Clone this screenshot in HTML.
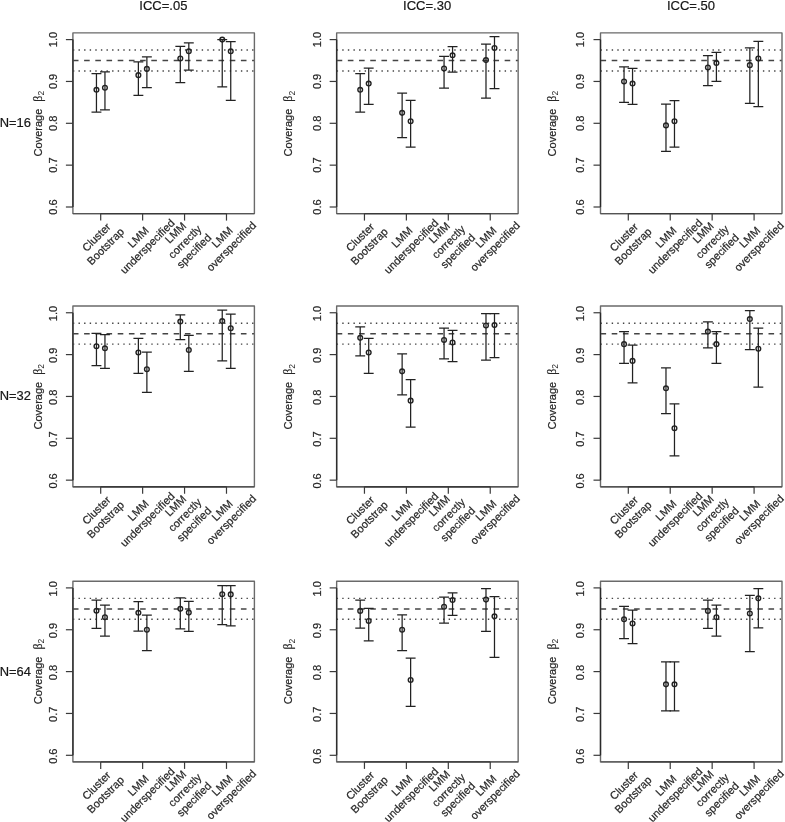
<!DOCTYPE html>
<html><head><meta charset="utf-8"><title>Coverage</title>
<style>html,body{margin:0;padding:0;background:#fff}svg{display:block}text{font-family:"Liberation Sans",sans-serif;stroke:#2a2a2a;stroke-width:0.22px}</style></head><body>
<svg width="785" height="822" viewBox="0 0 785 822">
<rect width="785" height="822" fill="#fff"/>
<g>
<line x1="72.9" x2="254.4" y1="50.06" y2="50.06" stroke="#444" stroke-width="1.4" stroke-dasharray="1.4 4.2"/>
<line x1="72.9" x2="254.4" y1="60.53" y2="60.53" stroke="#444" stroke-width="1.4" stroke-dasharray="5.6 5.6"/>
<line x1="72.9" x2="254.4" y1="70.99" y2="70.99" stroke="#444" stroke-width="1.4" stroke-dasharray="1.4 4.2"/>
<rect x="72.9" y="32.9" width="181.5" height="180.7" fill="none" stroke="#6a6a6a" stroke-width="1.4" stroke-linejoin="round"/>
<path d="M72.9 213.6H254.4" stroke="#555" stroke-width="1.3" fill="none"/>
<path d="M72.9 39.6V207" stroke="#3a3a3a" stroke-width="1.6" fill="none"/>
<line x1="65.9" x2="72.9" y1="39.6" y2="39.6" stroke="#3a3a3a" stroke-width="1.2"/>
<text transform="translate(57.3,39.6) rotate(-90)" text-anchor="middle" font-size="11" fill="#262626">1.0</text>
<line x1="65.9" x2="72.9" y1="81.45" y2="81.45" stroke="#3a3a3a" stroke-width="1.2"/>
<text transform="translate(57.3,81.45) rotate(-90)" text-anchor="middle" font-size="11" fill="#262626">0.9</text>
<line x1="65.9" x2="72.9" y1="123.3" y2="123.3" stroke="#3a3a3a" stroke-width="1.2"/>
<text transform="translate(57.3,123.3) rotate(-90)" text-anchor="middle" font-size="11" fill="#262626">0.8</text>
<line x1="65.9" x2="72.9" y1="165.15" y2="165.15" stroke="#3a3a3a" stroke-width="1.2"/>
<text transform="translate(57.3,165.15) rotate(-90)" text-anchor="middle" font-size="11" fill="#262626">0.7</text>
<line x1="65.9" x2="72.9" y1="207" y2="207" stroke="#3a3a3a" stroke-width="1.2"/>
<text transform="translate(57.3,207) rotate(-90)" text-anchor="middle" font-size="11" fill="#262626">0.6</text>
<text transform="translate(41.5,123.55) rotate(-90)" text-anchor="middle" font-size="11" fill="#262626">Coverage <tspan dx="3.9" font-family="Liberation Serif,serif" font-size="11.8">β</tspan><tspan dy="2.4" dx="0.2" font-size="8.6" stroke="none">2</tspan></text>
<path d="M100.7 213.6H226.49" stroke="#3a3a3a" stroke-width="1.4" fill="none"/>
<line x1="100.7" x2="100.7" y1="213.6" y2="220.6" stroke="#3a3a3a" stroke-width="1.2"/>
<text transform="translate(100.9,241.8) rotate(-45)" text-anchor="middle" font-size="11" fill="#262626"><tspan x="0" y="-2.7">Cluster</tspan><tspan x="0" y="10.3">Bootstrap</tspan></text>
<line x1="142.63" x2="142.63" y1="213.6" y2="220.6" stroke="#3a3a3a" stroke-width="1.2"/>
<text transform="translate(142.83,241.8) rotate(-45)" text-anchor="middle" font-size="11" fill="#262626"><tspan x="0" y="-2.7">LMM</tspan><tspan x="0" y="10.3">underspecified</tspan></text>
<line x1="184.56" x2="184.56" y1="213.6" y2="220.6" stroke="#3a3a3a" stroke-width="1.2"/>
<text transform="translate(184.76,241.8) rotate(-45)" text-anchor="middle" font-size="11" fill="#262626"><tspan x="0" y="-9.2">LMM</tspan><tspan x="0" y="3.8">correctly</tspan><tspan x="0" y="16.8">specified</tspan></text>
<line x1="226.49" x2="226.49" y1="213.6" y2="220.6" stroke="#3a3a3a" stroke-width="1.2"/>
<text transform="translate(226.69,241.8) rotate(-45)" text-anchor="middle" font-size="11" fill="#262626"><tspan x="0" y="-2.7">LMM</tspan><tspan x="0" y="10.3">overspecified</tspan></text>
<path d="M96.45 73.5V112M91.5 73.5H101.4M91.5 112H101.4" stroke="#222" stroke-width="1.25" fill="none"/>
<circle cx="96.45" cy="89.82" r="2.35" fill="none" stroke="#222" stroke-width="1.4"/>
<path d="M104.95 71.82V109.91M100 71.82H109.9M100 109.91H109.9" stroke="#222" stroke-width="1.25" fill="none"/>
<circle cx="104.95" cy="87.73" r="2.35" fill="none" stroke="#222" stroke-width="1.4"/>
<path d="M138.38 61.78V95.26M133.43 61.78H143.33M133.43 95.26H143.33" stroke="#222" stroke-width="1.25" fill="none"/>
<circle cx="138.38" cy="75.17" r="2.35" fill="none" stroke="#222" stroke-width="1.4"/>
<path d="M146.88 56.76V87.73M141.93 56.76H151.83M141.93 87.73H151.83" stroke="#222" stroke-width="1.25" fill="none"/>
<circle cx="146.88" cy="68.89" r="2.35" fill="none" stroke="#222" stroke-width="1.4"/>
<path d="M180.31 46.3V82.71M175.36 46.3H185.26M175.36 82.71H185.26" stroke="#222" stroke-width="1.25" fill="none"/>
<circle cx="180.31" cy="58.43" r="2.35" fill="none" stroke="#222" stroke-width="1.4"/>
<path d="M188.81 42.95V70.15M183.86 42.95H193.76M183.86 70.15H193.76" stroke="#222" stroke-width="1.25" fill="none"/>
<circle cx="188.81" cy="51.32" r="2.35" fill="none" stroke="#222" stroke-width="1.4"/>
<path d="M222.24 39.6V86.89M217.29 39.6H227.19M217.29 86.89H227.19" stroke="#222" stroke-width="1.25" fill="none"/>
<circle cx="222.24" cy="39.6" r="2.35" fill="none" stroke="#222" stroke-width="1.4"/>
<path d="M230.74 41.69V100.28M225.79 41.69H235.69M225.79 100.28H235.69" stroke="#222" stroke-width="1.25" fill="none"/>
<circle cx="230.74" cy="51.32" r="2.35" fill="none" stroke="#222" stroke-width="1.4"/>
</g>
<g>
<line x1="336.65" x2="518.15" y1="50.06" y2="50.06" stroke="#444" stroke-width="1.4" stroke-dasharray="1.4 4.2"/>
<line x1="336.65" x2="518.15" y1="60.53" y2="60.53" stroke="#444" stroke-width="1.4" stroke-dasharray="5.6 5.6"/>
<line x1="336.65" x2="518.15" y1="70.99" y2="70.99" stroke="#444" stroke-width="1.4" stroke-dasharray="1.4 4.2"/>
<rect x="336.65" y="32.9" width="181.5" height="180.7" fill="none" stroke="#6a6a6a" stroke-width="1.4" stroke-linejoin="round"/>
<path d="M336.65 213.6H518.15" stroke="#555" stroke-width="1.3" fill="none"/>
<path d="M336.65 39.6V207" stroke="#2e2e2e" stroke-width="1.4" fill="none"/>
<line x1="329.65" x2="336.65" y1="39.6" y2="39.6" stroke="#3a3a3a" stroke-width="1.2"/>
<text transform="translate(320.55,39.6) rotate(-90)" text-anchor="middle" font-size="11" fill="#262626">1.0</text>
<line x1="329.65" x2="336.65" y1="81.45" y2="81.45" stroke="#3a3a3a" stroke-width="1.2"/>
<text transform="translate(320.55,81.45) rotate(-90)" text-anchor="middle" font-size="11" fill="#262626">0.9</text>
<line x1="329.65" x2="336.65" y1="123.3" y2="123.3" stroke="#3a3a3a" stroke-width="1.2"/>
<text transform="translate(320.55,123.3) rotate(-90)" text-anchor="middle" font-size="11" fill="#262626">0.8</text>
<line x1="329.65" x2="336.65" y1="165.15" y2="165.15" stroke="#3a3a3a" stroke-width="1.2"/>
<text transform="translate(320.55,165.15) rotate(-90)" text-anchor="middle" font-size="11" fill="#262626">0.7</text>
<line x1="329.65" x2="336.65" y1="207" y2="207" stroke="#3a3a3a" stroke-width="1.2"/>
<text transform="translate(320.55,207) rotate(-90)" text-anchor="middle" font-size="11" fill="#262626">0.6</text>
<text transform="translate(292.15,123.55) rotate(-90)" text-anchor="middle" font-size="11" fill="#262626">Coverage <tspan dx="3.9" font-family="Liberation Serif,serif" font-size="11.8">β</tspan><tspan dy="2.4" dx="0.2" font-size="8.6" stroke="none">2</tspan></text>
<path d="M364.45 213.6H490.24" stroke="#3a3a3a" stroke-width="1.4" fill="none"/>
<line x1="364.45" x2="364.45" y1="213.6" y2="220.6" stroke="#3a3a3a" stroke-width="1.2"/>
<text transform="translate(364.65,241.8) rotate(-45)" text-anchor="middle" font-size="11" fill="#262626"><tspan x="0" y="-2.7">Cluster</tspan><tspan x="0" y="10.3">Bootstrap</tspan></text>
<line x1="406.38" x2="406.38" y1="213.6" y2="220.6" stroke="#3a3a3a" stroke-width="1.2"/>
<text transform="translate(406.58,241.8) rotate(-45)" text-anchor="middle" font-size="11" fill="#262626"><tspan x="0" y="-2.7">LMM</tspan><tspan x="0" y="10.3">underspecified</tspan></text>
<line x1="448.31" x2="448.31" y1="213.6" y2="220.6" stroke="#3a3a3a" stroke-width="1.2"/>
<text transform="translate(448.51,241.8) rotate(-45)" text-anchor="middle" font-size="11" fill="#262626"><tspan x="0" y="-9.2">LMM</tspan><tspan x="0" y="3.8">correctly</tspan><tspan x="0" y="16.8">specified</tspan></text>
<line x1="490.24" x2="490.24" y1="213.6" y2="220.6" stroke="#3a3a3a" stroke-width="1.2"/>
<text transform="translate(490.44,241.8) rotate(-45)" text-anchor="middle" font-size="11" fill="#262626"><tspan x="0" y="-2.7">LMM</tspan><tspan x="0" y="10.3">overspecified</tspan></text>
<path d="M360.2 73.5V112M355.25 73.5H365.15M355.25 112H365.15" stroke="#222" stroke-width="1.25" fill="none"/>
<circle cx="360.2" cy="89.82" r="2.35" fill="none" stroke="#222" stroke-width="1.4"/>
<path d="M368.7 68.06V104.47M363.75 68.06H373.65M363.75 104.47H373.65" stroke="#222" stroke-width="1.25" fill="none"/>
<circle cx="368.7" cy="83.54" r="2.35" fill="none" stroke="#222" stroke-width="1.4"/>
<path d="M402.13 93.17V137.53M397.18 93.17H407.08M397.18 137.53H407.08" stroke="#222" stroke-width="1.25" fill="none"/>
<circle cx="402.13" cy="112.84" r="2.35" fill="none" stroke="#222" stroke-width="1.4"/>
<path d="M410.63 100.28V147.15M405.68 100.28H415.58M405.68 147.15H415.58" stroke="#222" stroke-width="1.25" fill="none"/>
<circle cx="410.63" cy="121.21" r="2.35" fill="none" stroke="#222" stroke-width="1.4"/>
<path d="M444.06 56.34V88.15M439.11 56.34H449.01M439.11 88.15H449.01" stroke="#222" stroke-width="1.25" fill="none"/>
<circle cx="444.06" cy="68.48" r="2.35" fill="none" stroke="#222" stroke-width="1.4"/>
<path d="M452.56 46.71V72.24M447.61 46.71H457.51M447.61 72.24H457.51" stroke="#222" stroke-width="1.25" fill="none"/>
<circle cx="452.56" cy="55.29" r="2.35" fill="none" stroke="#222" stroke-width="1.4"/>
<path d="M485.99 44.2V98.19M481.04 44.2H490.94M481.04 98.19H490.94" stroke="#222" stroke-width="1.25" fill="none"/>
<circle cx="485.99" cy="60.11" r="2.35" fill="none" stroke="#222" stroke-width="1.4"/>
<path d="M494.49 36.67V88.56M489.54 36.67H499.44M489.54 88.56H499.44" stroke="#222" stroke-width="1.25" fill="none"/>
<circle cx="494.49" cy="47.97" r="2.35" fill="none" stroke="#222" stroke-width="1.4"/>
</g>
<g>
<line x1="600.5" x2="782" y1="50.06" y2="50.06" stroke="#444" stroke-width="1.4" stroke-dasharray="1.4 4.2"/>
<line x1="600.5" x2="782" y1="60.53" y2="60.53" stroke="#444" stroke-width="1.4" stroke-dasharray="5.6 5.6"/>
<line x1="600.5" x2="782" y1="70.99" y2="70.99" stroke="#444" stroke-width="1.4" stroke-dasharray="1.4 4.2"/>
<rect x="600.5" y="32.9" width="181.5" height="180.7" fill="none" stroke="#6a6a6a" stroke-width="1.4" stroke-linejoin="round"/>
<path d="M600.5 213.6H782" stroke="#555" stroke-width="1.3" fill="none"/>
<path d="M600.5 39.6V207" stroke="#2a2a2a" stroke-width="1.35" fill="none"/>
<line x1="593.5" x2="600.5" y1="39.6" y2="39.6" stroke="#3a3a3a" stroke-width="1.2"/>
<text transform="translate(584.4,39.6) rotate(-90)" text-anchor="middle" font-size="11" fill="#262626">1.0</text>
<line x1="593.5" x2="600.5" y1="81.45" y2="81.45" stroke="#3a3a3a" stroke-width="1.2"/>
<text transform="translate(584.4,81.45) rotate(-90)" text-anchor="middle" font-size="11" fill="#262626">0.9</text>
<line x1="593.5" x2="600.5" y1="123.3" y2="123.3" stroke="#3a3a3a" stroke-width="1.2"/>
<text transform="translate(584.4,123.3) rotate(-90)" text-anchor="middle" font-size="11" fill="#262626">0.8</text>
<line x1="593.5" x2="600.5" y1="165.15" y2="165.15" stroke="#3a3a3a" stroke-width="1.2"/>
<text transform="translate(584.4,165.15) rotate(-90)" text-anchor="middle" font-size="11" fill="#262626">0.7</text>
<line x1="593.5" x2="600.5" y1="207" y2="207" stroke="#3a3a3a" stroke-width="1.2"/>
<text transform="translate(584.4,207) rotate(-90)" text-anchor="middle" font-size="11" fill="#262626">0.6</text>
<text transform="translate(556,123.55) rotate(-90)" text-anchor="middle" font-size="11" fill="#262626">Coverage <tspan dx="3.9" font-family="Liberation Serif,serif" font-size="11.8">β</tspan><tspan dy="2.4" dx="0.2" font-size="8.6" stroke="none">2</tspan></text>
<path d="M628.3 213.6H754.09" stroke="#3a3a3a" stroke-width="1.4" fill="none"/>
<line x1="628.3" x2="628.3" y1="213.6" y2="220.6" stroke="#3a3a3a" stroke-width="1.2"/>
<text transform="translate(628.5,241.8) rotate(-45)" text-anchor="middle" font-size="11" fill="#262626"><tspan x="0" y="-2.7">Cluster</tspan><tspan x="0" y="10.3">Bootstrap</tspan></text>
<line x1="670.23" x2="670.23" y1="213.6" y2="220.6" stroke="#3a3a3a" stroke-width="1.2"/>
<text transform="translate(670.43,241.8) rotate(-45)" text-anchor="middle" font-size="11" fill="#262626"><tspan x="0" y="-2.7">LMM</tspan><tspan x="0" y="10.3">underspecified</tspan></text>
<line x1="712.16" x2="712.16" y1="213.6" y2="220.6" stroke="#3a3a3a" stroke-width="1.2"/>
<text transform="translate(712.36,241.8) rotate(-45)" text-anchor="middle" font-size="11" fill="#262626"><tspan x="0" y="-9.2">LMM</tspan><tspan x="0" y="3.8">correctly</tspan><tspan x="0" y="16.8">specified</tspan></text>
<line x1="754.09" x2="754.09" y1="213.6" y2="220.6" stroke="#3a3a3a" stroke-width="1.2"/>
<text transform="translate(754.29,241.8) rotate(-45)" text-anchor="middle" font-size="11" fill="#262626"><tspan x="0" y="-2.7">LMM</tspan><tspan x="0" y="10.3">overspecified</tspan></text>
<path d="M624.05 66.8V102.38M619.1 66.8H629M619.1 102.38H629" stroke="#222" stroke-width="1.25" fill="none"/>
<circle cx="624.05" cy="81.45" r="2.35" fill="none" stroke="#222" stroke-width="1.4"/>
<path d="M632.55 68.48V104.47M627.6 68.48H637.5M627.6 104.47H637.5" stroke="#222" stroke-width="1.25" fill="none"/>
<circle cx="632.55" cy="83.54" r="2.35" fill="none" stroke="#222" stroke-width="1.4"/>
<path d="M665.98 104.05V151.34M661.03 104.05H670.93M661.03 151.34H670.93" stroke="#222" stroke-width="1.25" fill="none"/>
<circle cx="665.98" cy="125.39" r="2.35" fill="none" stroke="#222" stroke-width="1.4"/>
<path d="M674.48 100.7V147.15M669.53 100.7H679.43M669.53 147.15H679.43" stroke="#222" stroke-width="1.25" fill="none"/>
<circle cx="674.48" cy="121.21" r="2.35" fill="none" stroke="#222" stroke-width="1.4"/>
<path d="M707.91 55.5V85.63M702.96 55.5H712.86M702.96 85.63H712.86" stroke="#222" stroke-width="1.25" fill="none"/>
<circle cx="707.91" cy="67.43" r="2.35" fill="none" stroke="#222" stroke-width="1.4"/>
<path d="M716.41 52.36V81.45M711.46 52.36H721.36M711.46 81.45H721.36" stroke="#222" stroke-width="1.25" fill="none"/>
<circle cx="716.41" cy="63.04" r="2.35" fill="none" stroke="#222" stroke-width="1.4"/>
<path d="M749.84 47.97V103.42M744.89 47.97H754.79M744.89 103.42H754.79" stroke="#222" stroke-width="1.25" fill="none"/>
<circle cx="749.84" cy="65.13" r="2.35" fill="none" stroke="#222" stroke-width="1.4"/>
<path d="M758.34 41.27V106.56M753.39 41.27H763.29M753.39 106.56H763.29" stroke="#222" stroke-width="1.25" fill="none"/>
<circle cx="758.34" cy="58.43" r="2.35" fill="none" stroke="#222" stroke-width="1.4"/>
</g>
<g>
<line x1="72.9" x2="254.4" y1="323.21" y2="323.21" stroke="#444" stroke-width="1.4" stroke-dasharray="1.4 4.2"/>
<line x1="72.9" x2="254.4" y1="333.68" y2="333.68" stroke="#444" stroke-width="1.4" stroke-dasharray="5.6 5.6"/>
<line x1="72.9" x2="254.4" y1="344.14" y2="344.14" stroke="#444" stroke-width="1.4" stroke-dasharray="1.4 4.2"/>
<rect x="72.9" y="306.05" width="181.5" height="180.7" fill="none" stroke="#6a6a6a" stroke-width="1.4" stroke-linejoin="round"/>
<path d="M72.9 486.75H254.4" stroke="#555" stroke-width="1.3" fill="none"/>
<path d="M72.9 312.75V480.15" stroke="#3a3a3a" stroke-width="1.6" fill="none"/>
<line x1="65.9" x2="72.9" y1="312.75" y2="312.75" stroke="#3a3a3a" stroke-width="1.2"/>
<text transform="translate(57.3,313.55) rotate(-90)" text-anchor="middle" font-size="11" fill="#262626">1.0</text>
<line x1="65.9" x2="72.9" y1="354.6" y2="354.6" stroke="#3a3a3a" stroke-width="1.2"/>
<text transform="translate(57.3,355.4) rotate(-90)" text-anchor="middle" font-size="11" fill="#262626">0.9</text>
<line x1="65.9" x2="72.9" y1="396.45" y2="396.45" stroke="#3a3a3a" stroke-width="1.2"/>
<text transform="translate(57.3,397.25) rotate(-90)" text-anchor="middle" font-size="11" fill="#262626">0.8</text>
<line x1="65.9" x2="72.9" y1="438.3" y2="438.3" stroke="#3a3a3a" stroke-width="1.2"/>
<text transform="translate(57.3,439.1) rotate(-90)" text-anchor="middle" font-size="11" fill="#262626">0.7</text>
<line x1="65.9" x2="72.9" y1="480.15" y2="480.15" stroke="#3a3a3a" stroke-width="1.2"/>
<text transform="translate(57.3,480.95) rotate(-90)" text-anchor="middle" font-size="11" fill="#262626">0.6</text>
<text transform="translate(41.5,396.7) rotate(-90)" text-anchor="middle" font-size="11" fill="#262626">Coverage <tspan dx="3.9" font-family="Liberation Serif,serif" font-size="11.8">β</tspan><tspan dy="2.4" dx="0.2" font-size="8.6" stroke="none">2</tspan></text>
<path d="M100.7 486.75H226.49" stroke="#3a3a3a" stroke-width="1.4" fill="none"/>
<line x1="100.7" x2="100.7" y1="486.75" y2="493.75" stroke="#3a3a3a" stroke-width="1.2"/>
<text transform="translate(100.9,514.95) rotate(-45)" text-anchor="middle" font-size="11" fill="#262626"><tspan x="0" y="-2.7">Cluster</tspan><tspan x="0" y="10.3">Bootstrap</tspan></text>
<line x1="142.63" x2="142.63" y1="486.75" y2="493.75" stroke="#3a3a3a" stroke-width="1.2"/>
<text transform="translate(142.83,514.95) rotate(-45)" text-anchor="middle" font-size="11" fill="#262626"><tspan x="0" y="-2.7">LMM</tspan><tspan x="0" y="10.3">underspecified</tspan></text>
<line x1="184.56" x2="184.56" y1="486.75" y2="493.75" stroke="#3a3a3a" stroke-width="1.2"/>
<text transform="translate(184.76,514.95) rotate(-45)" text-anchor="middle" font-size="11" fill="#262626"><tspan x="0" y="-9.2">LMM</tspan><tspan x="0" y="3.8">correctly</tspan><tspan x="0" y="16.8">specified</tspan></text>
<line x1="226.49" x2="226.49" y1="486.75" y2="493.75" stroke="#3a3a3a" stroke-width="1.2"/>
<text transform="translate(226.69,514.95) rotate(-45)" text-anchor="middle" font-size="11" fill="#262626"><tspan x="0" y="-2.7">LMM</tspan><tspan x="0" y="10.3">overspecified</tspan></text>
<path d="M96.45 333.26V365.69M91.5 333.26H101.4M91.5 365.69H101.4" stroke="#222" stroke-width="1.25" fill="none"/>
<circle cx="96.45" cy="346.23" r="2.35" fill="none" stroke="#222" stroke-width="1.4"/>
<path d="M104.95 334.51V368.41M100 334.51H109.9M100 368.41H109.9" stroke="#222" stroke-width="1.25" fill="none"/>
<circle cx="104.95" cy="348.32" r="2.35" fill="none" stroke="#222" stroke-width="1.4"/>
<path d="M138.38 338.28V373.43M133.43 338.28H143.33M133.43 373.43H143.33" stroke="#222" stroke-width="1.25" fill="none"/>
<circle cx="138.38" cy="352.51" r="2.35" fill="none" stroke="#222" stroke-width="1.4"/>
<path d="M146.88 352.09V392.26M141.93 352.09H151.83M141.93 392.26H151.83" stroke="#222" stroke-width="1.25" fill="none"/>
<circle cx="146.88" cy="369.25" r="2.35" fill="none" stroke="#222" stroke-width="1.4"/>
<path d="M180.31 314.84V339.53M175.36 314.84H185.26M175.36 339.53H185.26" stroke="#222" stroke-width="1.25" fill="none"/>
<circle cx="180.31" cy="321.54" r="2.35" fill="none" stroke="#222" stroke-width="1.4"/>
<path d="M188.81 335.35V371.34M183.86 335.35H193.76M183.86 371.34H193.76" stroke="#222" stroke-width="1.25" fill="none"/>
<circle cx="188.81" cy="350" r="2.35" fill="none" stroke="#222" stroke-width="1.4"/>
<path d="M222.24 310.24V360.88M217.29 310.24H227.19M217.29 360.88H227.19" stroke="#222" stroke-width="1.25" fill="none"/>
<circle cx="222.24" cy="321.12" r="2.35" fill="none" stroke="#222" stroke-width="1.4"/>
<path d="M230.74 314.01V368.41M225.79 314.01H235.69M225.79 368.41H235.69" stroke="#222" stroke-width="1.25" fill="none"/>
<circle cx="230.74" cy="328.23" r="2.35" fill="none" stroke="#222" stroke-width="1.4"/>
</g>
<g>
<line x1="336.65" x2="518.15" y1="323.21" y2="323.21" stroke="#444" stroke-width="1.4" stroke-dasharray="1.4 4.2"/>
<line x1="336.65" x2="518.15" y1="333.68" y2="333.68" stroke="#444" stroke-width="1.4" stroke-dasharray="5.6 5.6"/>
<line x1="336.65" x2="518.15" y1="344.14" y2="344.14" stroke="#444" stroke-width="1.4" stroke-dasharray="1.4 4.2"/>
<rect x="336.65" y="306.05" width="181.5" height="180.7" fill="none" stroke="#6a6a6a" stroke-width="1.4" stroke-linejoin="round"/>
<path d="M336.65 486.75H518.15" stroke="#555" stroke-width="1.3" fill="none"/>
<path d="M336.65 312.75V480.15" stroke="#2e2e2e" stroke-width="1.4" fill="none"/>
<line x1="329.65" x2="336.65" y1="312.75" y2="312.75" stroke="#3a3a3a" stroke-width="1.2"/>
<text transform="translate(320.55,313.55) rotate(-90)" text-anchor="middle" font-size="11" fill="#262626">1.0</text>
<line x1="329.65" x2="336.65" y1="354.6" y2="354.6" stroke="#3a3a3a" stroke-width="1.2"/>
<text transform="translate(320.55,355.4) rotate(-90)" text-anchor="middle" font-size="11" fill="#262626">0.9</text>
<line x1="329.65" x2="336.65" y1="396.45" y2="396.45" stroke="#3a3a3a" stroke-width="1.2"/>
<text transform="translate(320.55,397.25) rotate(-90)" text-anchor="middle" font-size="11" fill="#262626">0.8</text>
<line x1="329.65" x2="336.65" y1="438.3" y2="438.3" stroke="#3a3a3a" stroke-width="1.2"/>
<text transform="translate(320.55,439.1) rotate(-90)" text-anchor="middle" font-size="11" fill="#262626">0.7</text>
<line x1="329.65" x2="336.65" y1="480.15" y2="480.15" stroke="#3a3a3a" stroke-width="1.2"/>
<text transform="translate(320.55,480.95) rotate(-90)" text-anchor="middle" font-size="11" fill="#262626">0.6</text>
<text transform="translate(292.15,396.7) rotate(-90)" text-anchor="middle" font-size="11" fill="#262626">Coverage <tspan dx="3.9" font-family="Liberation Serif,serif" font-size="11.8">β</tspan><tspan dy="2.4" dx="0.2" font-size="8.6" stroke="none">2</tspan></text>
<path d="M364.45 486.75H490.24" stroke="#3a3a3a" stroke-width="1.4" fill="none"/>
<line x1="364.45" x2="364.45" y1="486.75" y2="493.75" stroke="#3a3a3a" stroke-width="1.2"/>
<text transform="translate(364.65,514.95) rotate(-45)" text-anchor="middle" font-size="11" fill="#262626"><tspan x="0" y="-2.7">Cluster</tspan><tspan x="0" y="10.3">Bootstrap</tspan></text>
<line x1="406.38" x2="406.38" y1="486.75" y2="493.75" stroke="#3a3a3a" stroke-width="1.2"/>
<text transform="translate(406.58,514.95) rotate(-45)" text-anchor="middle" font-size="11" fill="#262626"><tspan x="0" y="-2.7">LMM</tspan><tspan x="0" y="10.3">underspecified</tspan></text>
<line x1="448.31" x2="448.31" y1="486.75" y2="493.75" stroke="#3a3a3a" stroke-width="1.2"/>
<text transform="translate(448.51,514.95) rotate(-45)" text-anchor="middle" font-size="11" fill="#262626"><tspan x="0" y="-9.2">LMM</tspan><tspan x="0" y="3.8">correctly</tspan><tspan x="0" y="16.8">specified</tspan></text>
<line x1="490.24" x2="490.24" y1="486.75" y2="493.75" stroke="#3a3a3a" stroke-width="1.2"/>
<text transform="translate(490.44,514.95) rotate(-45)" text-anchor="middle" font-size="11" fill="#262626"><tspan x="0" y="-2.7">LMM</tspan><tspan x="0" y="10.3">overspecified</tspan></text>
<path d="M360.2 326.98V355.86M355.25 326.98H365.15M355.25 355.86H365.15" stroke="#222" stroke-width="1.25" fill="none"/>
<circle cx="360.2" cy="337.86" r="2.35" fill="none" stroke="#222" stroke-width="1.4"/>
<path d="M368.7 338.28V373.43M363.75 338.28H373.65M363.75 373.43H373.65" stroke="#222" stroke-width="1.25" fill="none"/>
<circle cx="368.7" cy="352.51" r="2.35" fill="none" stroke="#222" stroke-width="1.4"/>
<path d="M402.13 353.76V394.78M397.18 353.76H407.08M397.18 394.78H407.08" stroke="#222" stroke-width="1.25" fill="none"/>
<circle cx="402.13" cy="371.34" r="2.35" fill="none" stroke="#222" stroke-width="1.4"/>
<path d="M410.63 379.71V427M405.68 379.71H415.58M405.68 427H415.58" stroke="#222" stroke-width="1.25" fill="none"/>
<circle cx="410.63" cy="400.63" r="2.35" fill="none" stroke="#222" stroke-width="1.4"/>
<path d="M444.06 328.23V358.78M439.11 328.23H449.01M439.11 358.78H449.01" stroke="#222" stroke-width="1.25" fill="none"/>
<circle cx="444.06" cy="339.95" r="2.35" fill="none" stroke="#222" stroke-width="1.4"/>
<path d="M452.56 330.33V361.71M447.61 330.33H457.51M447.61 361.71H457.51" stroke="#222" stroke-width="1.25" fill="none"/>
<circle cx="452.56" cy="342.46" r="2.35" fill="none" stroke="#222" stroke-width="1.4"/>
<path d="M485.99 313.59V360.04M481.04 313.59H490.94M481.04 360.04H490.94" stroke="#222" stroke-width="1.25" fill="none"/>
<circle cx="485.99" cy="325.51" r="2.35" fill="none" stroke="#222" stroke-width="1.4"/>
<path d="M494.49 313.59V357.53M489.54 313.59H499.44M489.54 357.53H499.44" stroke="#222" stroke-width="1.25" fill="none"/>
<circle cx="494.49" cy="325.1" r="2.35" fill="none" stroke="#222" stroke-width="1.4"/>
</g>
<g>
<line x1="600.5" x2="782" y1="323.21" y2="323.21" stroke="#444" stroke-width="1.4" stroke-dasharray="1.4 4.2"/>
<line x1="600.5" x2="782" y1="333.68" y2="333.68" stroke="#444" stroke-width="1.4" stroke-dasharray="5.6 5.6"/>
<line x1="600.5" x2="782" y1="344.14" y2="344.14" stroke="#444" stroke-width="1.4" stroke-dasharray="1.4 4.2"/>
<rect x="600.5" y="306.05" width="181.5" height="180.7" fill="none" stroke="#6a6a6a" stroke-width="1.4" stroke-linejoin="round"/>
<path d="M600.5 486.75H782" stroke="#555" stroke-width="1.3" fill="none"/>
<path d="M600.5 312.75V480.15" stroke="#2a2a2a" stroke-width="1.35" fill="none"/>
<line x1="593.5" x2="600.5" y1="312.75" y2="312.75" stroke="#3a3a3a" stroke-width="1.2"/>
<text transform="translate(584.4,313.55) rotate(-90)" text-anchor="middle" font-size="11" fill="#262626">1.0</text>
<line x1="593.5" x2="600.5" y1="354.6" y2="354.6" stroke="#3a3a3a" stroke-width="1.2"/>
<text transform="translate(584.4,355.4) rotate(-90)" text-anchor="middle" font-size="11" fill="#262626">0.9</text>
<line x1="593.5" x2="600.5" y1="396.45" y2="396.45" stroke="#3a3a3a" stroke-width="1.2"/>
<text transform="translate(584.4,397.25) rotate(-90)" text-anchor="middle" font-size="11" fill="#262626">0.8</text>
<line x1="593.5" x2="600.5" y1="438.3" y2="438.3" stroke="#3a3a3a" stroke-width="1.2"/>
<text transform="translate(584.4,439.1) rotate(-90)" text-anchor="middle" font-size="11" fill="#262626">0.7</text>
<line x1="593.5" x2="600.5" y1="480.15" y2="480.15" stroke="#3a3a3a" stroke-width="1.2"/>
<text transform="translate(584.4,480.95) rotate(-90)" text-anchor="middle" font-size="11" fill="#262626">0.6</text>
<text transform="translate(556,396.7) rotate(-90)" text-anchor="middle" font-size="11" fill="#262626">Coverage <tspan dx="3.9" font-family="Liberation Serif,serif" font-size="11.8">β</tspan><tspan dy="2.4" dx="0.2" font-size="8.6" stroke="none">2</tspan></text>
<path d="M628.3 486.75H754.09" stroke="#3a3a3a" stroke-width="1.4" fill="none"/>
<line x1="628.3" x2="628.3" y1="486.75" y2="493.75" stroke="#3a3a3a" stroke-width="1.2"/>
<text transform="translate(628.5,514.95) rotate(-45)" text-anchor="middle" font-size="11" fill="#262626"><tspan x="0" y="-2.7">Cluster</tspan><tspan x="0" y="10.3">Bootstrap</tspan></text>
<line x1="670.23" x2="670.23" y1="486.75" y2="493.75" stroke="#3a3a3a" stroke-width="1.2"/>
<text transform="translate(670.43,514.95) rotate(-45)" text-anchor="middle" font-size="11" fill="#262626"><tspan x="0" y="-2.7">LMM</tspan><tspan x="0" y="10.3">underspecified</tspan></text>
<line x1="712.16" x2="712.16" y1="486.75" y2="493.75" stroke="#3a3a3a" stroke-width="1.2"/>
<text transform="translate(712.36,514.95) rotate(-45)" text-anchor="middle" font-size="11" fill="#262626"><tspan x="0" y="-9.2">LMM</tspan><tspan x="0" y="3.8">correctly</tspan><tspan x="0" y="16.8">specified</tspan></text>
<line x1="754.09" x2="754.09" y1="486.75" y2="493.75" stroke="#3a3a3a" stroke-width="1.2"/>
<text transform="translate(754.29,514.95) rotate(-45)" text-anchor="middle" font-size="11" fill="#262626"><tspan x="0" y="-2.7">LMM</tspan><tspan x="0" y="10.3">overspecified</tspan></text>
<path d="M624.05 331.58V363.39M619.1 331.58H629M619.1 363.39H629" stroke="#222" stroke-width="1.25" fill="none"/>
<circle cx="624.05" cy="344.14" r="2.35" fill="none" stroke="#222" stroke-width="1.4"/>
<path d="M632.55 345.18V382.85M627.6 345.18H637.5M627.6 382.85H637.5" stroke="#222" stroke-width="1.25" fill="none"/>
<circle cx="632.55" cy="360.88" r="2.35" fill="none" stroke="#222" stroke-width="1.4"/>
<path d="M665.98 367.99V413.61M661.03 367.99H670.93M661.03 413.61H670.93" stroke="#222" stroke-width="1.25" fill="none"/>
<circle cx="665.98" cy="388.29" r="2.35" fill="none" stroke="#222" stroke-width="1.4"/>
<path d="M674.48 403.98V455.88M669.53 403.98H679.43M669.53 455.88H679.43" stroke="#222" stroke-width="1.25" fill="none"/>
<circle cx="674.48" cy="428.26" r="2.35" fill="none" stroke="#222" stroke-width="1.4"/>
<path d="M707.91 321.96V347.9M702.96 321.96H712.86M702.96 347.9H712.86" stroke="#222" stroke-width="1.25" fill="none"/>
<circle cx="707.91" cy="331.58" r="2.35" fill="none" stroke="#222" stroke-width="1.4"/>
<path d="M716.41 331.58V363.39M711.46 331.58H721.36M711.46 363.39H721.36" stroke="#222" stroke-width="1.25" fill="none"/>
<circle cx="716.41" cy="344.14" r="2.35" fill="none" stroke="#222" stroke-width="1.4"/>
<path d="M749.84 310.66V349.58M744.89 310.66H754.79M744.89 349.58H754.79" stroke="#222" stroke-width="1.25" fill="none"/>
<circle cx="749.84" cy="319.03" r="2.35" fill="none" stroke="#222" stroke-width="1.4"/>
<path d="M758.34 328.23V387.24M753.39 328.23H763.29M753.39 387.24H763.29" stroke="#222" stroke-width="1.25" fill="none"/>
<circle cx="758.34" cy="348.74" r="2.35" fill="none" stroke="#222" stroke-width="1.4"/>
</g>
<g>
<line x1="72.9" x2="254.4" y1="598.36" y2="598.36" stroke="#444" stroke-width="1.4" stroke-dasharray="1.4 4.2"/>
<line x1="72.9" x2="254.4" y1="609.03" y2="609.03" stroke="#444" stroke-width="1.4" stroke-dasharray="5.6 5.6"/>
<line x1="72.9" x2="254.4" y1="619.29" y2="619.29" stroke="#444" stroke-width="1.4" stroke-dasharray="1.4 4.2"/>
<rect x="72.9" y="581.2" width="181.5" height="180.7" fill="none" stroke="#6a6a6a" stroke-width="1.4" stroke-linejoin="round"/>
<path d="M72.9 761.9H254.4" stroke="#555" stroke-width="1.3" fill="none"/>
<path d="M72.9 587.9V755.3" stroke="#3a3a3a" stroke-width="1.6" fill="none"/>
<line x1="65.9" x2="72.9" y1="587.9" y2="587.9" stroke="#3a3a3a" stroke-width="1.2"/>
<text transform="translate(57.3,588.8) rotate(-90)" text-anchor="middle" font-size="11" fill="#262626">1.0</text>
<line x1="65.9" x2="72.9" y1="629.75" y2="629.75" stroke="#3a3a3a" stroke-width="1.2"/>
<text transform="translate(57.3,630.65) rotate(-90)" text-anchor="middle" font-size="11" fill="#262626">0.9</text>
<line x1="65.9" x2="72.9" y1="671.6" y2="671.6" stroke="#3a3a3a" stroke-width="1.2"/>
<text transform="translate(57.3,672.5) rotate(-90)" text-anchor="middle" font-size="11" fill="#262626">0.8</text>
<line x1="65.9" x2="72.9" y1="713.45" y2="713.45" stroke="#3a3a3a" stroke-width="1.2"/>
<text transform="translate(57.3,714.35) rotate(-90)" text-anchor="middle" font-size="11" fill="#262626">0.7</text>
<line x1="65.9" x2="72.9" y1="755.3" y2="755.3" stroke="#3a3a3a" stroke-width="1.2"/>
<text transform="translate(57.3,756.2) rotate(-90)" text-anchor="middle" font-size="11" fill="#262626">0.6</text>
<text transform="translate(41.5,671.45) rotate(-90)" text-anchor="middle" font-size="11" fill="#262626">Coverage <tspan dx="3.9" font-family="Liberation Serif,serif" font-size="11.8">β</tspan><tspan dy="2.4" dx="0.2" font-size="8.6" stroke="none">2</tspan></text>
<path d="M100.7 761.9H226.49" stroke="#3a3a3a" stroke-width="1.4" fill="none"/>
<line x1="100.7" x2="100.7" y1="761.9" y2="768.9" stroke="#3a3a3a" stroke-width="1.2"/>
<text transform="translate(100.9,790.1) rotate(-45)" text-anchor="middle" font-size="11" fill="#262626"><tspan x="0" y="-2.7">Cluster</tspan><tspan x="0" y="10.3">Bootstrap</tspan></text>
<line x1="142.63" x2="142.63" y1="761.9" y2="768.9" stroke="#3a3a3a" stroke-width="1.2"/>
<text transform="translate(142.83,790.1) rotate(-45)" text-anchor="middle" font-size="11" fill="#262626"><tspan x="0" y="-2.7">LMM</tspan><tspan x="0" y="10.3">underspecified</tspan></text>
<line x1="184.56" x2="184.56" y1="761.9" y2="768.9" stroke="#3a3a3a" stroke-width="1.2"/>
<text transform="translate(184.76,790.1) rotate(-45)" text-anchor="middle" font-size="11" fill="#262626"><tspan x="0" y="-9.2">LMM</tspan><tspan x="0" y="3.8">correctly</tspan><tspan x="0" y="16.8">specified</tspan></text>
<line x1="226.49" x2="226.49" y1="761.9" y2="768.9" stroke="#3a3a3a" stroke-width="1.2"/>
<text transform="translate(226.69,790.1) rotate(-45)" text-anchor="middle" font-size="11" fill="#262626"><tspan x="0" y="-2.7">LMM</tspan><tspan x="0" y="10.3">overspecified</tspan></text>
<path d="M96.45 600.04V628.49M91.5 600.04H101.4M91.5 628.49H101.4" stroke="#222" stroke-width="1.25" fill="none"/>
<circle cx="96.45" cy="610.71" r="2.35" fill="none" stroke="#222" stroke-width="1.4"/>
<path d="M104.95 605.06V636.03M100 605.06H109.9M100 636.03H109.9" stroke="#222" stroke-width="1.25" fill="none"/>
<circle cx="104.95" cy="617.2" r="2.35" fill="none" stroke="#222" stroke-width="1.4"/>
<path d="M138.38 601.71V631.01M133.43 601.71H143.33M133.43 631.01H143.33" stroke="#222" stroke-width="1.25" fill="none"/>
<circle cx="138.38" cy="612.8" r="2.35" fill="none" stroke="#222" stroke-width="1.4"/>
<path d="M146.88 615.1V650.68M141.93 615.1H151.83M141.93 650.68H151.83" stroke="#222" stroke-width="1.25" fill="none"/>
<circle cx="146.88" cy="629.75" r="2.35" fill="none" stroke="#222" stroke-width="1.4"/>
<path d="M180.31 597.94V628.91M175.36 597.94H185.26M175.36 628.91H185.26" stroke="#222" stroke-width="1.25" fill="none"/>
<circle cx="180.31" cy="608.83" r="2.35" fill="none" stroke="#222" stroke-width="1.4"/>
<path d="M188.81 601.29V631.42M183.86 601.29H193.76M183.86 631.42H193.76" stroke="#222" stroke-width="1.25" fill="none"/>
<circle cx="188.81" cy="612.59" r="2.35" fill="none" stroke="#222" stroke-width="1.4"/>
<path d="M222.24 585.51V624.73M217.29 585.51H227.19M217.29 624.73H227.19" stroke="#222" stroke-width="1.25" fill="none"/>
<circle cx="222.24" cy="594.18" r="2.35" fill="none" stroke="#222" stroke-width="1.4"/>
<path d="M230.74 585.51V625.98M225.79 585.51H235.69M225.79 625.98H235.69" stroke="#222" stroke-width="1.25" fill="none"/>
<circle cx="230.74" cy="594.39" r="2.35" fill="none" stroke="#222" stroke-width="1.4"/>
</g>
<g>
<line x1="336.65" x2="518.15" y1="598.36" y2="598.36" stroke="#444" stroke-width="1.4" stroke-dasharray="1.4 4.2"/>
<line x1="336.65" x2="518.15" y1="609.03" y2="609.03" stroke="#444" stroke-width="1.4" stroke-dasharray="5.6 5.6"/>
<line x1="336.65" x2="518.15" y1="619.29" y2="619.29" stroke="#444" stroke-width="1.4" stroke-dasharray="1.4 4.2"/>
<rect x="336.65" y="581.2" width="181.5" height="180.7" fill="none" stroke="#6a6a6a" stroke-width="1.4" stroke-linejoin="round"/>
<path d="M336.65 761.9H518.15" stroke="#555" stroke-width="1.3" fill="none"/>
<path d="M336.65 587.9V755.3" stroke="#2e2e2e" stroke-width="1.4" fill="none"/>
<line x1="329.65" x2="336.65" y1="587.9" y2="587.9" stroke="#3a3a3a" stroke-width="1.2"/>
<text transform="translate(320.55,588.8) rotate(-90)" text-anchor="middle" font-size="11" fill="#262626">1.0</text>
<line x1="329.65" x2="336.65" y1="629.75" y2="629.75" stroke="#3a3a3a" stroke-width="1.2"/>
<text transform="translate(320.55,630.65) rotate(-90)" text-anchor="middle" font-size="11" fill="#262626">0.9</text>
<line x1="329.65" x2="336.65" y1="671.6" y2="671.6" stroke="#3a3a3a" stroke-width="1.2"/>
<text transform="translate(320.55,672.5) rotate(-90)" text-anchor="middle" font-size="11" fill="#262626">0.8</text>
<line x1="329.65" x2="336.65" y1="713.45" y2="713.45" stroke="#3a3a3a" stroke-width="1.2"/>
<text transform="translate(320.55,714.35) rotate(-90)" text-anchor="middle" font-size="11" fill="#262626">0.7</text>
<line x1="329.65" x2="336.65" y1="755.3" y2="755.3" stroke="#3a3a3a" stroke-width="1.2"/>
<text transform="translate(320.55,756.2) rotate(-90)" text-anchor="middle" font-size="11" fill="#262626">0.6</text>
<text transform="translate(292.15,671.45) rotate(-90)" text-anchor="middle" font-size="11" fill="#262626">Coverage <tspan dx="3.9" font-family="Liberation Serif,serif" font-size="11.8">β</tspan><tspan dy="2.4" dx="0.2" font-size="8.6" stroke="none">2</tspan></text>
<path d="M364.45 761.9H490.24" stroke="#3a3a3a" stroke-width="1.4" fill="none"/>
<line x1="364.45" x2="364.45" y1="761.9" y2="768.9" stroke="#3a3a3a" stroke-width="1.2"/>
<text transform="translate(364.65,790.1) rotate(-45)" text-anchor="middle" font-size="11" fill="#262626"><tspan x="0" y="-2.7">Cluster</tspan><tspan x="0" y="10.3">Bootstrap</tspan></text>
<line x1="406.38" x2="406.38" y1="761.9" y2="768.9" stroke="#3a3a3a" stroke-width="1.2"/>
<text transform="translate(406.58,790.1) rotate(-45)" text-anchor="middle" font-size="11" fill="#262626"><tspan x="0" y="-2.7">LMM</tspan><tspan x="0" y="10.3">underspecified</tspan></text>
<line x1="448.31" x2="448.31" y1="761.9" y2="768.9" stroke="#3a3a3a" stroke-width="1.2"/>
<text transform="translate(448.51,790.1) rotate(-45)" text-anchor="middle" font-size="11" fill="#262626"><tspan x="0" y="-9.2">LMM</tspan><tspan x="0" y="3.8">correctly</tspan><tspan x="0" y="16.8">specified</tspan></text>
<line x1="490.24" x2="490.24" y1="761.9" y2="768.9" stroke="#3a3a3a" stroke-width="1.2"/>
<text transform="translate(490.44,790.1) rotate(-45)" text-anchor="middle" font-size="11" fill="#262626"><tspan x="0" y="-2.7">LMM</tspan><tspan x="0" y="10.3">overspecified</tspan></text>
<path d="M360.2 600.2V628.2M355.25 600.2H365.15M355.25 628.2H365.15" stroke="#222" stroke-width="1.25" fill="none"/>
<circle cx="360.2" cy="610.92" r="2.35" fill="none" stroke="#222" stroke-width="1.4"/>
<path d="M368.7 608.41V640.84M363.75 608.41H373.65M363.75 640.84H373.65" stroke="#222" stroke-width="1.25" fill="none"/>
<circle cx="368.7" cy="620.96" r="2.35" fill="none" stroke="#222" stroke-width="1.4"/>
<path d="M402.13 614.89V650.68M397.18 614.89H407.08M397.18 650.68H407.08" stroke="#222" stroke-width="1.25" fill="none"/>
<circle cx="402.13" cy="629.75" r="2.35" fill="none" stroke="#222" stroke-width="1.4"/>
<path d="M410.63 658.21V706.34M405.68 658.21H415.58M405.68 706.34H415.58" stroke="#222" stroke-width="1.25" fill="none"/>
<circle cx="410.63" cy="679.97" r="2.35" fill="none" stroke="#222" stroke-width="1.4"/>
<path d="M444.06 597.11V623.05M439.11 597.11H449.01M439.11 623.05H449.01" stroke="#222" stroke-width="1.25" fill="none"/>
<circle cx="444.06" cy="606.73" r="2.35" fill="none" stroke="#222" stroke-width="1.4"/>
<path d="M452.56 592.92V615.31M447.61 592.92H457.51M447.61 615.31H457.51" stroke="#222" stroke-width="1.25" fill="none"/>
<circle cx="452.56" cy="600.04" r="2.35" fill="none" stroke="#222" stroke-width="1.4"/>
<path d="M485.99 588.53V631.42M481.04 588.53H490.94M481.04 631.42H490.94" stroke="#222" stroke-width="1.25" fill="none"/>
<circle cx="485.99" cy="599.62" r="2.35" fill="none" stroke="#222" stroke-width="1.4"/>
<path d="M494.49 596.69V657.37M489.54 596.69H499.44M489.54 657.37H499.44" stroke="#222" stroke-width="1.25" fill="none"/>
<circle cx="494.49" cy="616.36" r="2.35" fill="none" stroke="#222" stroke-width="1.4"/>
</g>
<g>
<line x1="600.5" x2="782" y1="598.36" y2="598.36" stroke="#444" stroke-width="1.4" stroke-dasharray="1.4 4.2"/>
<line x1="600.5" x2="782" y1="609.03" y2="609.03" stroke="#444" stroke-width="1.4" stroke-dasharray="5.6 5.6"/>
<line x1="600.5" x2="782" y1="619.29" y2="619.29" stroke="#444" stroke-width="1.4" stroke-dasharray="1.4 4.2"/>
<rect x="600.5" y="581.2" width="181.5" height="180.7" fill="none" stroke="#6a6a6a" stroke-width="1.4" stroke-linejoin="round"/>
<path d="M600.5 761.9H782" stroke="#555" stroke-width="1.3" fill="none"/>
<path d="M600.5 587.9V755.3" stroke="#2a2a2a" stroke-width="1.35" fill="none"/>
<line x1="593.5" x2="600.5" y1="587.9" y2="587.9" stroke="#3a3a3a" stroke-width="1.2"/>
<text transform="translate(584.4,588.8) rotate(-90)" text-anchor="middle" font-size="11" fill="#262626">1.0</text>
<line x1="593.5" x2="600.5" y1="629.75" y2="629.75" stroke="#3a3a3a" stroke-width="1.2"/>
<text transform="translate(584.4,630.65) rotate(-90)" text-anchor="middle" font-size="11" fill="#262626">0.9</text>
<line x1="593.5" x2="600.5" y1="671.6" y2="671.6" stroke="#3a3a3a" stroke-width="1.2"/>
<text transform="translate(584.4,672.5) rotate(-90)" text-anchor="middle" font-size="11" fill="#262626">0.8</text>
<line x1="593.5" x2="600.5" y1="713.45" y2="713.45" stroke="#3a3a3a" stroke-width="1.2"/>
<text transform="translate(584.4,714.35) rotate(-90)" text-anchor="middle" font-size="11" fill="#262626">0.7</text>
<line x1="593.5" x2="600.5" y1="755.3" y2="755.3" stroke="#3a3a3a" stroke-width="1.2"/>
<text transform="translate(584.4,756.2) rotate(-90)" text-anchor="middle" font-size="11" fill="#262626">0.6</text>
<text transform="translate(556,671.45) rotate(-90)" text-anchor="middle" font-size="11" fill="#262626">Coverage <tspan dx="3.9" font-family="Liberation Serif,serif" font-size="11.8">β</tspan><tspan dy="2.4" dx="0.2" font-size="8.6" stroke="none">2</tspan></text>
<path d="M628.3 761.9H754.09" stroke="#3a3a3a" stroke-width="1.4" fill="none"/>
<line x1="628.3" x2="628.3" y1="761.9" y2="768.9" stroke="#3a3a3a" stroke-width="1.2"/>
<text transform="translate(628.5,790.1) rotate(-45)" text-anchor="middle" font-size="11" fill="#262626"><tspan x="0" y="-2.7">Cluster</tspan><tspan x="0" y="10.3">Bootstrap</tspan></text>
<line x1="670.23" x2="670.23" y1="761.9" y2="768.9" stroke="#3a3a3a" stroke-width="1.2"/>
<text transform="translate(670.43,790.1) rotate(-45)" text-anchor="middle" font-size="11" fill="#262626"><tspan x="0" y="-2.7">LMM</tspan><tspan x="0" y="10.3">underspecified</tspan></text>
<line x1="712.16" x2="712.16" y1="761.9" y2="768.9" stroke="#3a3a3a" stroke-width="1.2"/>
<text transform="translate(712.36,790.1) rotate(-45)" text-anchor="middle" font-size="11" fill="#262626"><tspan x="0" y="-9.2">LMM</tspan><tspan x="0" y="3.8">correctly</tspan><tspan x="0" y="16.8">specified</tspan></text>
<line x1="754.09" x2="754.09" y1="761.9" y2="768.9" stroke="#3a3a3a" stroke-width="1.2"/>
<text transform="translate(754.29,790.1) rotate(-45)" text-anchor="middle" font-size="11" fill="#262626"><tspan x="0" y="-2.7">LMM</tspan><tspan x="0" y="10.3">overspecified</tspan></text>
<path d="M624.05 606.31V638.54M619.1 606.31H629M619.1 638.54H629" stroke="#222" stroke-width="1.25" fill="none"/>
<circle cx="624.05" cy="619.29" r="2.35" fill="none" stroke="#222" stroke-width="1.4"/>
<path d="M632.55 610.08V643.56M627.6 610.08H637.5M627.6 643.56H637.5" stroke="#222" stroke-width="1.25" fill="none"/>
<circle cx="632.55" cy="623.47" r="2.35" fill="none" stroke="#222" stroke-width="1.4"/>
<path d="M665.98 661.97V710.94M661.03 661.97H670.93M661.03 710.94H670.93" stroke="#222" stroke-width="1.25" fill="none"/>
<circle cx="665.98" cy="684.36" r="2.35" fill="none" stroke="#222" stroke-width="1.4"/>
<path d="M674.48 661.97V710.94M669.53 661.97H679.43M669.53 710.94H679.43" stroke="#222" stroke-width="1.25" fill="none"/>
<circle cx="674.48" cy="684.36" r="2.35" fill="none" stroke="#222" stroke-width="1.4"/>
<path d="M707.91 600.04V628.49M702.96 600.04H712.86M702.96 628.49H712.86" stroke="#222" stroke-width="1.25" fill="none"/>
<circle cx="707.91" cy="610.92" r="2.35" fill="none" stroke="#222" stroke-width="1.4"/>
<path d="M716.41 605.06V636.03M711.46 605.06H721.36M711.46 636.03H721.36" stroke="#222" stroke-width="1.25" fill="none"/>
<circle cx="716.41" cy="617.2" r="2.35" fill="none" stroke="#222" stroke-width="1.4"/>
<path d="M749.84 595.43V651.51M744.89 595.43H754.79M744.89 651.51H754.79" stroke="#222" stroke-width="1.25" fill="none"/>
<circle cx="749.84" cy="613.43" r="2.35" fill="none" stroke="#222" stroke-width="1.4"/>
<path d="M758.34 588.53V627.87M753.39 588.53H763.29M753.39 627.87H763.29" stroke="#222" stroke-width="1.25" fill="none"/>
<circle cx="758.34" cy="598.36" r="2.35" fill="none" stroke="#222" stroke-width="1.4"/>
</g>
<text x="163.35" y="10.3" text-anchor="middle" font-size="13" fill="#111">ICC=.05</text>
<text x="427.1" y="10.3" text-anchor="middle" font-size="13" fill="#111">ICC=.30</text>
<text x="690.95" y="10.3" text-anchor="middle" font-size="13" fill="#111">ICC=.50</text>
<text x="-0.3" y="126.5" font-size="12.9" fill="#111">N=16</text>
<text x="-0.3" y="399.65" font-size="12.9" fill="#111">N=32</text>
<text x="-0.3" y="675.5" font-size="12.9" fill="#111">N=64</text>
</svg></body></html>
